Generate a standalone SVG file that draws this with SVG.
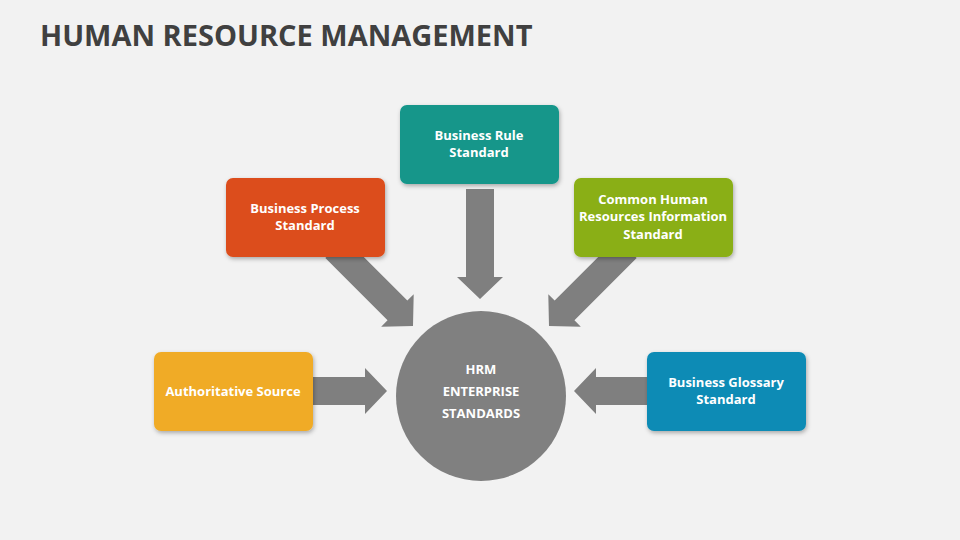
<svg xmlns="http://www.w3.org/2000/svg" width="960" height="540" viewBox="0 0 960 540">
<defs>
<style>
.t{font-family:"Open Sans","Liberation Sans",sans-serif;font-weight:bold;fill:#fff;font-size:13px;text-anchor:middle}
.a{fill:#7f7f7f}
</style>
<filter id="s" x="-10%" y="-10%" width="130%" height="130%"><feDropShadow dx="1" dy="2" stdDeviation="2" flood-opacity="0.3"/></filter>
<polygon id="arr" points="-110,-14 -22,-14 -22,-23 0,0 -22,23 -22,14 -110,14"/>
</defs>
<rect width="960" height="540" fill="#f2f2f2"/>
<text x="40" y="46" font-family="'Open Sans','Liberation Sans',sans-serif" font-weight="bold" font-size="29" fill="#404040">HUMAN RESOURCE MANAGEMENT</text>
<g id="connectors" class="a">
<use href="#arr" transform="translate(413,326) rotate(45)"/>
<use href="#arr" transform="translate(549,326) rotate(135)"/>
<use href="#arr" transform="translate(480,299) rotate(90)"/>
<use href="#arr" transform="translate(387,391)"/>
<use href="#arr" transform="translate(574,391) rotate(180)"/>
</g>
<g id="center"><circle cx="481" cy="396" r="85" fill="#808080"/>
<text class="t" font-size="16"><tspan x="481" y="374">HRM</tspan><tspan x="481" y="396">ENTERPRISE</tspan><tspan x="481" y="418">STANDARDS</tspan></text></g>
<g id="process"><rect x="226" y="178" width="159" height="79" rx="7" fill="#dc4d1a" filter="url(#s)"/><text class="t"><tspan x="305" y="213">Business Process</tspan><tspan x="305" y="230">Standard</tspan></text></g>
<g id="rule"><rect x="400" y="105" width="159" height="79" rx="7" fill="#13968a" filter="url(#s)"/><text class="t"><tspan x="479" y="140">Business Rule</tspan><tspan x="479" y="157">Standard</tspan></text></g>
<g id="common"><rect x="574" y="178" width="159" height="79" rx="7" fill="#8aaf12" filter="url(#s)"/><text class="t"><tspan x="653" y="204">Common Human</tspan><tspan x="653" y="221">Resources Information</tspan><tspan x="653" y="239">Standard</tspan></text></g>
<g id="auth"><rect x="154" y="352" width="159" height="79" rx="7" fill="#f0ab27" filter="url(#s)"/><text class="t"><tspan x="233" y="396">Authoritative Source</tspan></text></g>
<g id="glossary"><rect x="647" y="352" width="159" height="79" rx="7" fill="#0e8bb5" filter="url(#s)"/><text class="t"><tspan x="726" y="387">Business Glossary</tspan><tspan x="726" y="404">Standard</tspan></text></g>
</svg>
